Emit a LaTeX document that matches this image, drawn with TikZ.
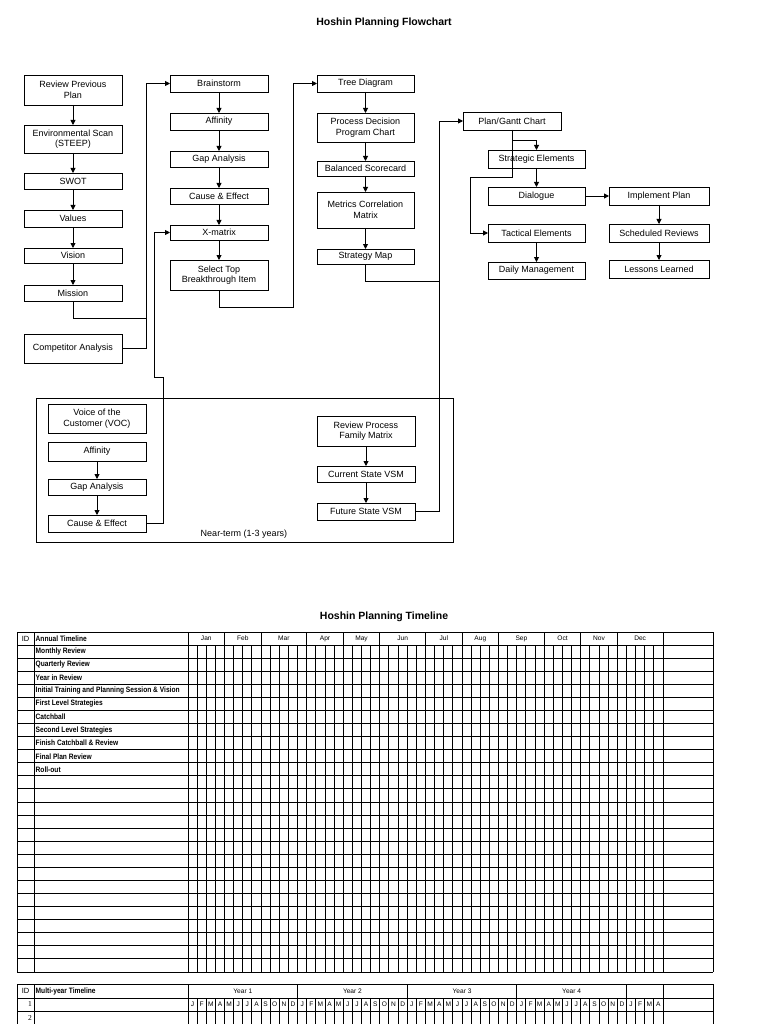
\documentclass[tikz,border=0pt]{standalone}
\usepackage{fontspec}
\setmainfont{Liberation Sans}
\newfontfamily\rowserif{Liberation Serif}
\newfontfamily\narrowsans[FakeStretch=0.85]{Liberation Sans}
\usetikzlibrary{arrows.meta}
\newcommand\mybox[6]{\node[box, minimum width={(#4-#2)*1pt}, minimum height={(#5-#3)*1pt}] (#1) at ({(#2+#4)/2},{(#3+#5)/2}) {#6};}
\begin{document}
\begin{tikzpicture}[x=1pt,y=-1pt,
  box/.style={draw, line width=0.9pt, inner sep=0pt, outer sep=0pt, align=center, font=\fontsize{9}{10.5}\selectfont},
  arr/.style={line width=0.9pt, -{Triangle[length=5pt,width=5pt]}},
  ln/.style={line width=0.9pt},
  grid/.style={line width=1pt},
  ttl/.style={font=\bfseries\fontsize{10.5}{12}\selectfont, inner sep=0pt},
  lbl/.style={font=\narrowsans\bfseries\fontsize{7.8}{8}\selectfont, anchor=west, inner sep=0pt},
  hdr/.style={font=\fontsize{6.6}{7}\selectfont, inner sep=0pt},
  idt/.style={font=\fontsize{7.5}{8}\selectfont, inner sep=0pt}
]
\useasboundingbox (0,0) rectangle (768,1024);
\clip (0,0) rectangle (768,1024);
\fill[white] (0,0) rectangle (768,1024);

% titles
\node[ttl] (t1) at (384,23) {Hoshin Planning Flowchart};
\node[ttl] (t2) at (384,617) {Hoshin Planning Timeline};

% column 1
\mybox{rpp}{24}{75}{122}{105}{Review Previous\\Plan}
\mybox{env}{24}{125}{122}{153}{Environmental Scan\\(STEEP)}
\mybox{swot}{24}{173}{122}{189}{SWOT}
\mybox{val}{24}{210}{122}{227}{Values}
\mybox{vis}{24}{248}{122}{263}{Vision}
\mybox{mis}{24}{285}{122}{301}{Mission}
\mybox{comp}{24}{334}{122}{363}{Competitor Analysis}

% column 2
\mybox{brain}{170}{75}{268}{92}{Brainstorm}
\mybox{aff}{170}{113}{268}{130}{Affinity}
\mybox{gap}{170}{151}{268}{167}{Gap Analysis}
\mybox{ce}{170}{188}{268}{204}{Cause \& Effect}
\mybox{xm}{170}{225}{268}{240}{X-matrix}
\mybox{sel}{170}{260}{268}{290}{Select Top\\Breakthrough Item}

% column 3
\mybox{tree}{317}{75}{414}{92}{Tree Diagram}
\mybox{pdpc}{317}{113}{414}{142}{Process Decision\\Program Chart}
\mybox{bsc}{317}{161}{414}{176}{Balanced Scorecard}
\mybox{mcm}{317}{192}{414}{228}{Metrics Correlation\\Matrix}
\mybox{smap}{317}{249}{414}{264}{Strategy Map}

% column 4
\mybox{plan}{463}{112}{561}{130}{Plan/Gantt Chart}
\mybox{strat}{488}{150}{585}{168}{Strategic Elements}
\mybox{dial}{488}{187}{585}{205}{Dialogue}
\mybox{tact}{488}{224}{585}{242}{Tactical Elements}
\mybox{daily}{488}{262}{585}{279}{Daily Management}
\mybox{impl}{609}{187}{709}{205}{Implement Plan}
\mybox{sched}{609}{224}{709}{242}{Scheduled Reviews}
\mybox{less}{609}{260}{709}{278}{Lessons Learned}

% near-term frame
\draw[ln] (36,398) rectangle (453,542);
\node[font=\fontsize{9}{10}\selectfont, inner sep=0pt] (near) at (244,534) {Near-term (1-3 years)};
\mybox{voc}{48}{404}{146}{433}{Voice of the\\Customer (VOC)}
\mybox{naff}{48}{442}{146}{461}{Affinity}
\mybox{ngap}{48}{479}{146}{495}{Gap Analysis}
\mybox{nce}{48}{515}{146}{532}{Cause \& Effect}
\mybox{rpf}{317}{416}{415}{446}{Review Process\\Family Matrix}
\mybox{cvsm}{317}{466}{415}{482}{Current State VSM}
\mybox{fvsm}{317}{503}{415}{520}{Future State VSM}

% vertical chains
\foreach \a/\b in {rpp/env,env/swot,swot/val,val/vis,vis/mis,
  brain/aff,aff/gap,gap/ce,ce/xm,xm/sel,
  tree/pdpc,pdpc/bsc,bsc/mcm,mcm/smap,
  strat/dial,tact/daily,impl/sched,sched/less,
  naff/ngap,ngap/nce,rpf/cvsm,cvsm/fvsm}
  \draw[arr] (\a.south) -- (\b.north);
\draw[arr] (dial.east) -- (impl.west);

% routed connectors
\draw[arr] (mis.south) |- (146,318) |- (brain.west);
\draw[ln] (comp.east) -| (146,318);
\draw[arr] (nce.east) -| (163,377) -- (154,377) |- (xm.west);
\draw[arr] (sel.south) |- (293,307) |- (tree.west);
\draw[ln] (smap.south) |- (439,281);
\draw[arr] (fvsm.east) -| (439,121) -- (plan.west);
\draw[arr] (plan.south) -- (512,140) -| (strat.north);
\draw[arr] (plan.south) -- (512,177) -- (470,177) |- (tact.west);

% ===== Annual timeline table =====
\foreach \k in {0,...,26}
  \draw[grid] (17,{632+\k*13.0769}) -- (713,{632+\k*13.0769});
\foreach \x in {17,34,188,663,713}
  \draw[grid] (\x,632) -- (\x,972);
\foreach \k in {1,...,51}
  \draw[grid] ({188+\k*9.1346},645.08) -- ({188+\k*9.1346},972);
\foreach \k in {4,8,13,17,21,26,30,34,39,43,47}
  \draw[grid] ({188+\k*9.1346},632) -- ({188+\k*9.1346},645.08);
\foreach \a/\b/\m [count=\i] in {0/4/Jan,4/8/Feb,8/13/Mar,13/17/Apr,17/21/May,21/26/Jun,26/30/Jul,30/34/Aug,34/39/Sep,39/43/Oct,43/47/Nov,47/52/Dec}
  \node[hdr] (mon\i) at ({188+(\a+\b)/2*9.1346},638.5) {\m};
\node[idt] (id1) at (25.5,638.5) {ID};
\node[lbl] (at0) at (35.5,638.5) {Annual Timeline};
\foreach \t [count=\i] in {Monthly Review,Quarterly Review,Year in Review,Initial Training and Planning Session \& Vision,First Level Strategies,Catchball,Second Level Strategies,Finish Catchball \& Review,Final Plan Review,Roll-out}
  \node[lbl] (at\i) at (35.5,{632+(\i+0.5)*13.0769}) {\t};

% ===== Multi-year timeline table =====
\foreach \y in {984,998,1011.1,1024.2}
  \draw[grid] (17,\y) -- (713,\y);
\foreach \x in {17,34,188,663,713}
  \draw[grid] (\x,984) -- (\x,1030);
\foreach \k in {1,...,51}
  \draw[grid] ({188+\k*9.1346},998) -- ({188+\k*9.1346},1030);
\foreach \k in {12,24,36,48}
  \draw[grid] ({188+\k*9.1346},984) -- ({188+\k*9.1346},998);
\foreach \y in {1,...,4}
  \node[hdr] (yr\y) at ({188+(\y-0.5)*12*9.1346},991) {Year \y};
\foreach \m [count=\i] in {J,F,M,A,M,J,J,A,S,O,N,D,J,F,M,A,M,J,J,A,S,O,N,D,J,F,M,A,M,J,J,A,S,O,N,D,J,F,M,A,M,J,J,A,S,O,N,D,J,F,M,A}
  \node[hdr] (ml\i) at ({188+(\i-0.5)*9.1346},1004.5) {\m};
\node[idt] (id2) at (25.5,991) {ID};
\node[lbl] (my0) at (35.5,991) {Multi-year Timeline};
\node[font=\rowserif\fontsize{7.5}{8}\selectfont, inner sep=0pt, anchor=east] (r1) at (32,1004.5) {1};
\node[font=\rowserif\fontsize{7.5}{8}\selectfont, inner sep=0pt, anchor=east] (r2) at (32,1017.6) {2};
\end{tikzpicture}
\end{document}
